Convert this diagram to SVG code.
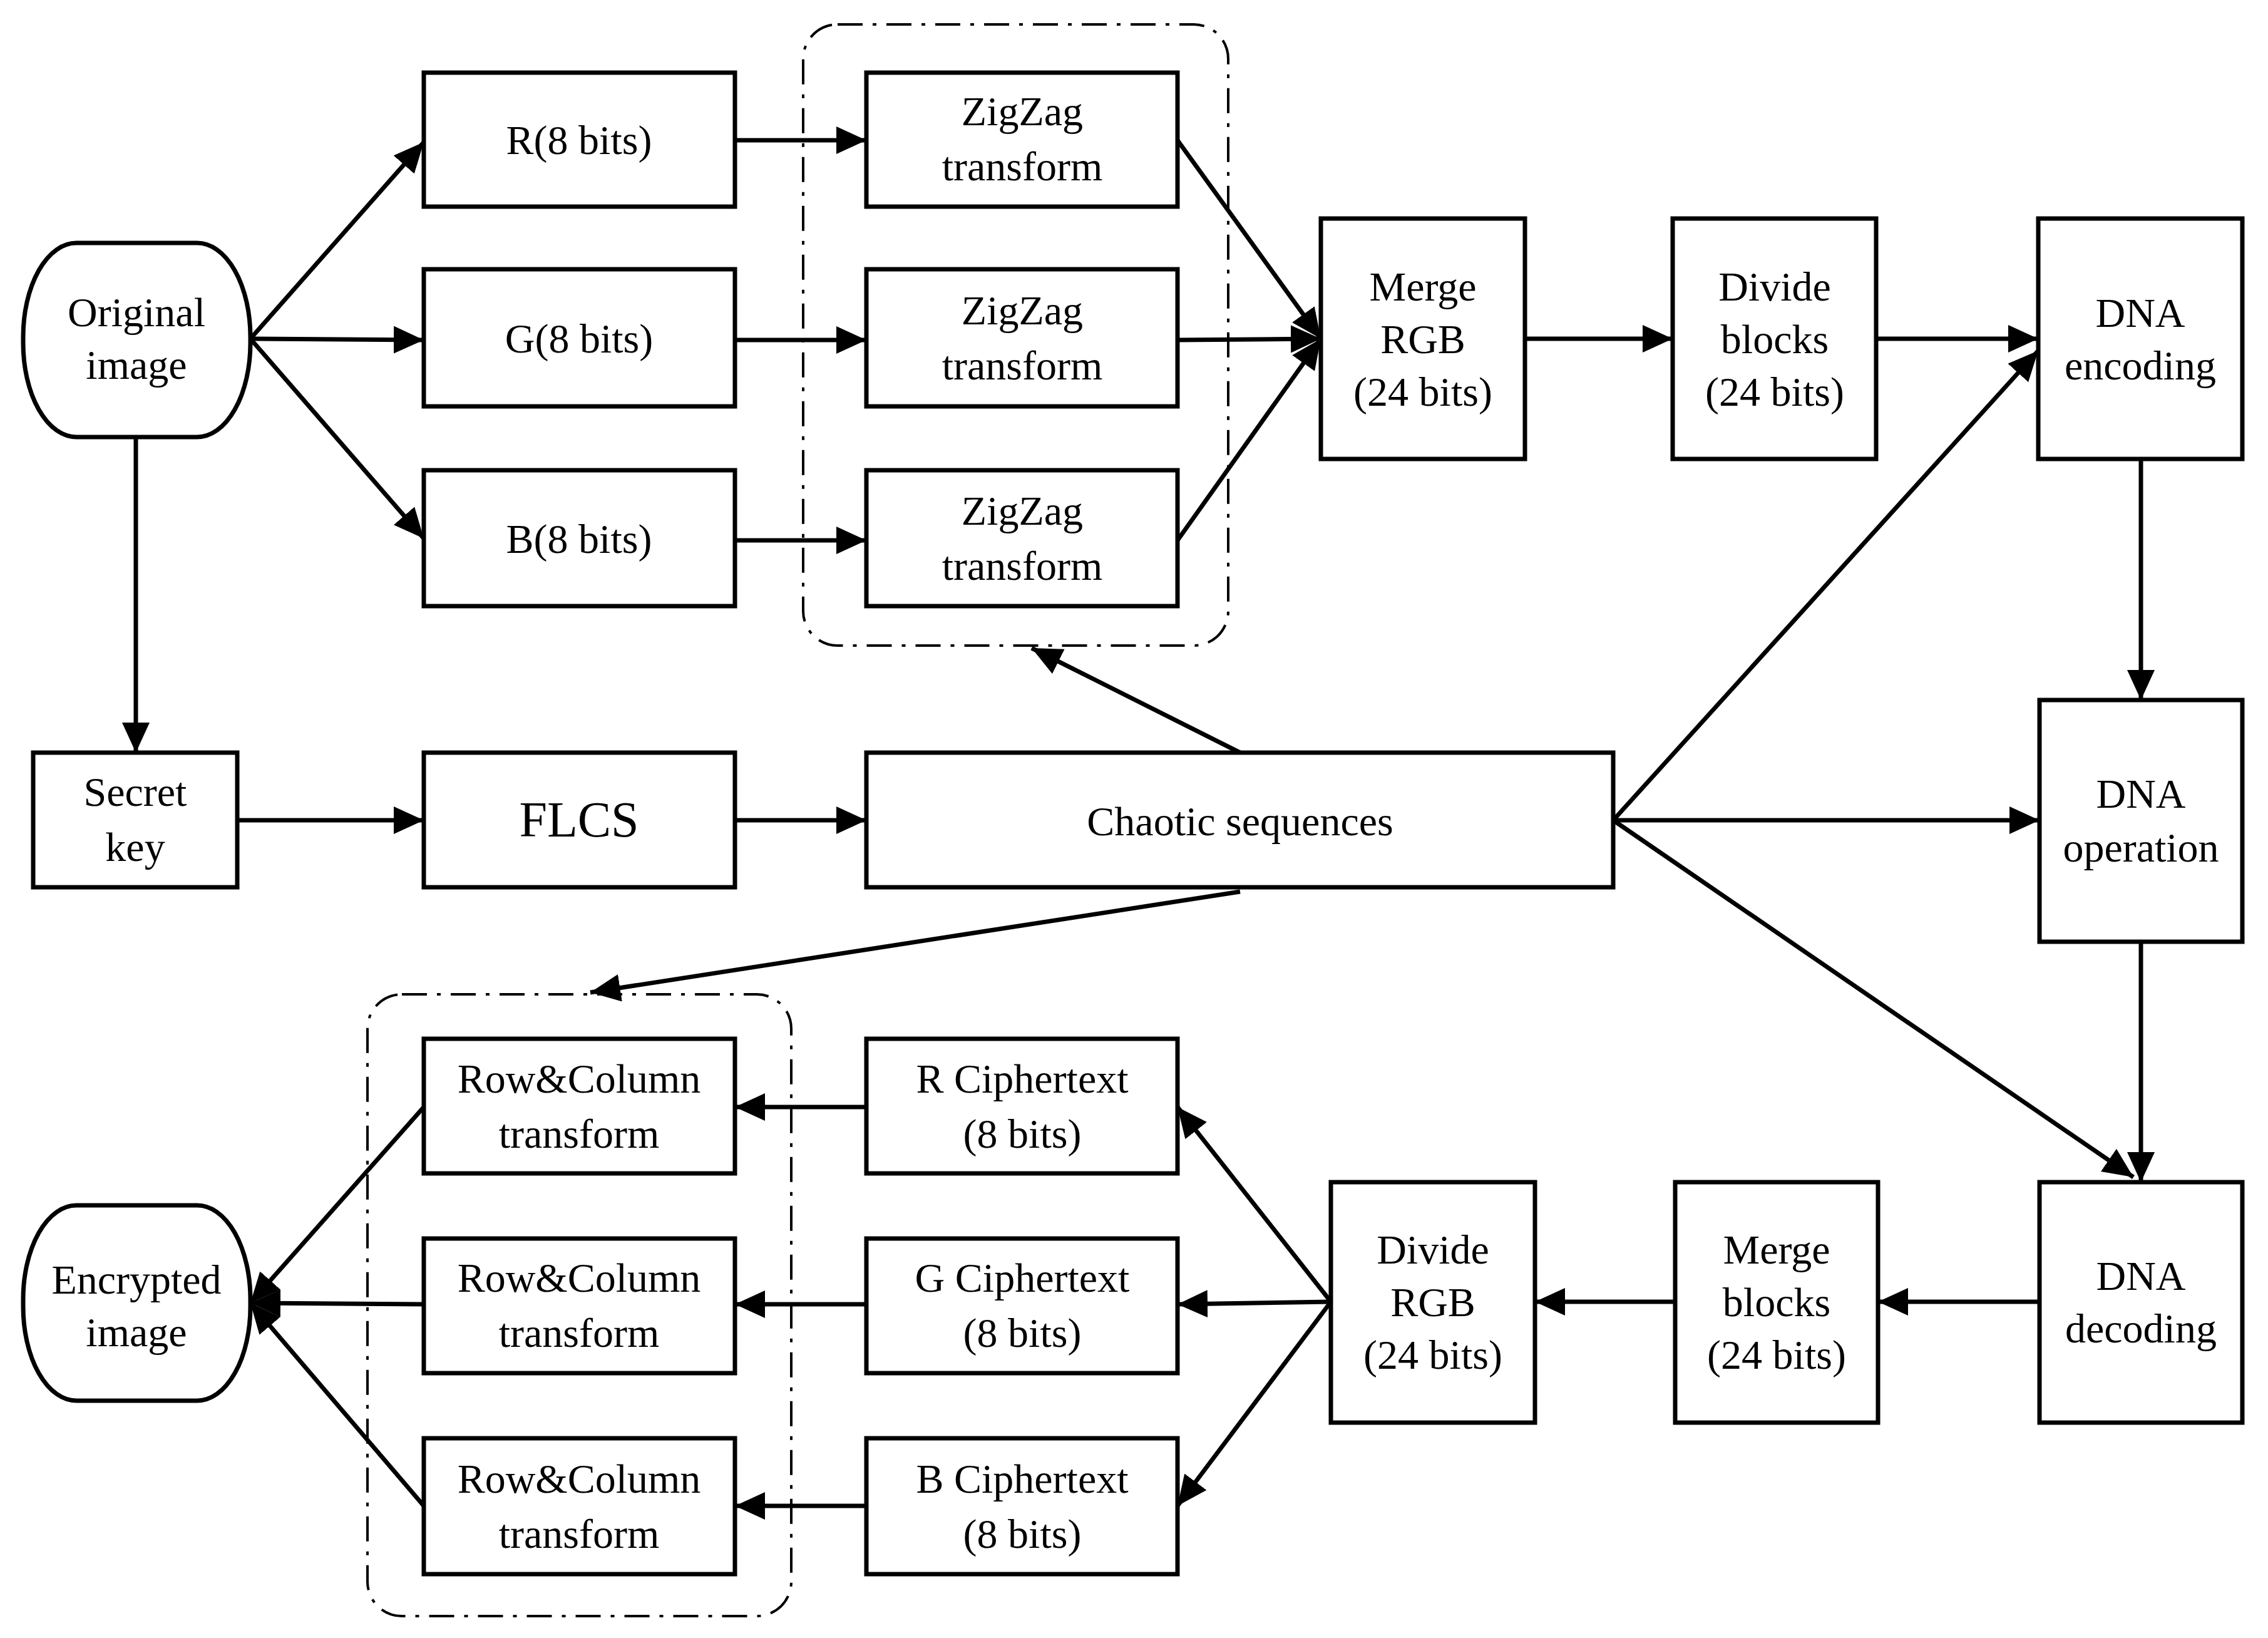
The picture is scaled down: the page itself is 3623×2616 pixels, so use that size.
<svg xmlns="http://www.w3.org/2000/svg" width="3623" height="2616" viewBox="0 0 3623 2616">
<style>
.b{fill:#fff;stroke:#000;stroke-width:7}
.t{font-family:"Liberation Serif",serif;font-size:66px;text-anchor:middle;fill:#000}
.c line{stroke:#000;stroke-width:7;marker-end:url(#a)}
.g{fill:none;stroke:#000;stroke-width:4;stroke-dasharray:40 16 6 16}
</style>
<defs><marker id="a" markerUnits="userSpaceOnUse" markerWidth="52" markerHeight="52" refX="48" refY="22" orient="auto"><path d="M0,0L48,22L0,44Z" fill="#000"/></marker></defs>
<rect class="g" x="1283" y="39" width="679" height="992" rx="55"/>
<rect class="g" x="587" y="1588" width="677" height="993" rx="55"/>
<g class="c">
<line x1="400" y1="541" x2="677" y2="227"/>
<line x1="400" y1="541" x2="677" y2="543"/>
<line x1="400" y1="541" x2="677" y2="860"/>
<line x1="217" y1="698" x2="217" y2="1202"/>
<line x1="1174" y1="224" x2="1384" y2="224"/>
<line x1="1174" y1="543" x2="1384" y2="543"/>
<line x1="1174" y1="863" x2="1384" y2="863"/>
<line x1="1881" y1="224" x2="2110" y2="541"/>
<line x1="1881" y1="543" x2="2110" y2="541"/>
<line x1="1881" y1="863" x2="2110" y2="541"/>
<line x1="2436" y1="541" x2="2672" y2="541"/>
<line x1="2997" y1="541" x2="3256" y2="541"/>
<line x1="3420" y1="733" x2="3420" y2="1118"/>
<line x1="3420" y1="1504" x2="3420" y2="1888"/>
<line x1="379" y1="1310" x2="677" y2="1310"/>
<line x1="1174" y1="1310" x2="1384" y2="1310"/>
<line x1="1981" y1="1202" x2="1648" y2="1035"/>
<line x1="2577" y1="1310" x2="3256" y2="560"/>
<line x1="2577" y1="1310" x2="3258" y2="1310"/>
<line x1="2577" y1="1310" x2="3408" y2="1880"/>
<line x1="1981" y1="1424" x2="943" y2="1585"/>
<line x1="3258" y1="2079" x2="3000" y2="2079"/>
<line x1="2676" y1="2079" x2="2452" y2="2079"/>
<line x1="2126" y1="2079" x2="1881" y2="1768"/>
<line x1="2126" y1="2079" x2="1881" y2="2083"/>
<line x1="2126" y1="2079" x2="1881" y2="2405"/>
<line x1="1384" y1="1768" x2="1174" y2="1768"/>
<line x1="1384" y1="2083" x2="1174" y2="2083"/>
<line x1="1384" y1="2405" x2="1174" y2="2405"/>
<line x1="677" y1="1768" x2="400" y2="2081"/>
<line x1="677" y1="2083" x2="400" y2="2081"/>
<line x1="677" y1="2405" x2="400" y2="2081"/>
</g>
<g id="orig"><rect class="b" x="37" y="388" width="363" height="310" rx="85" ry="150"/><text class="t" x="218" y="521">Original</text><text class="t" x="218" y="605">image</text></g>
<g id="r"><rect class="b" x="677" y="116" width="497" height="214"/><text class="t" x="925" y="246">R(8 bits)</text></g>
<g id="g"><rect class="b" x="677" y="430" width="497" height="219"/><text class="t" x="925" y="563">G(8 bits)</text></g>
<g id="bb"><rect class="b" x="677" y="751" width="497" height="217"/><text class="t" x="925" y="883">B(8 bits)</text></g>
<g id="z1"><rect class="b" x="1384" y="116" width="497" height="214"/><text class="t" x="1633" y="200">ZigZag</text><text class="t" x="1633" y="288">transform</text></g>
<g id="z2"><rect class="b" x="1384" y="430" width="497" height="219"/><text class="t" x="1633" y="518">ZigZag</text><text class="t" x="1633" y="606">transform</text></g>
<g id="z3"><rect class="b" x="1384" y="751" width="497" height="217"/><text class="t" x="1633" y="838">ZigZag</text><text class="t" x="1633" y="926">transform</text></g>
<g id="merge"><rect class="b" x="2110" y="349" width="326" height="384"/><text class="t" x="2273" y="480">Merge</text><text class="t" x="2273" y="564">RGB</text><text class="t" x="2273" y="648">(24 bits)</text></g>
<g id="divb"><rect class="b" x="2672" y="349" width="325" height="384"/><text class="t" x="2835" y="480">Divide</text><text class="t" x="2835" y="564">blocks</text><text class="t" x="2835" y="648">(24 bits)</text></g>
<g id="enc"><rect class="b" x="3256" y="349" width="326" height="384"/><text class="t" x="3419" y="522">DNA</text><text class="t" x="3419" y="606">encoding</text></g>
<g id="key"><rect class="b" x="53" y="1202" width="326" height="215"/><text class="t" x="216" y="1287">Secret</text><text class="t" x="216" y="1375">key</text></g>
<g id="flcs"><rect class="b" x="677" y="1202" width="497" height="215"/><text class="t" x="925" y="1336" style="font-size:80px">FLCS</text></g>
<g id="chaos"><rect class="b" x="1384" y="1202" width="1193" height="215"/><text class="t" x="1981" y="1334">Chaotic sequences</text></g>
<g id="op"><rect class="b" x="3258" y="1118" width="324" height="386"/><text class="t" x="3420" y="1290">DNA</text><text class="t" x="3420" y="1376">operation</text></g>
<g id="dec"><rect class="b" x="3258" y="1888" width="324" height="384"/><text class="t" x="3420" y="2060">DNA</text><text class="t" x="3420" y="2144">decoding</text></g>
<g id="mb"><rect class="b" x="2676" y="1888" width="324" height="384"/><text class="t" x="2838" y="2018">Merge</text><text class="t" x="2838" y="2102">blocks</text><text class="t" x="2838" y="2186">(24 bits)</text></g>
<g id="drgb"><rect class="b" x="2126" y="1888" width="326" height="384"/><text class="t" x="2289" y="2018">Divide</text><text class="t" x="2289" y="2102">RGB</text><text class="t" x="2289" y="2186">(24 bits)</text></g>
<g id="rc"><rect class="b" x="1384" y="1659" width="497" height="215"/><text class="t" x="1633" y="1745">R Ciphertext</text><text class="t" x="1633" y="1833">(8 bits)</text></g>
<g id="gc"><rect class="b" x="1384" y="1978" width="497" height="215"/><text class="t" x="1633" y="2063">G Ciphertext</text><text class="t" x="1633" y="2151">(8 bits)</text></g>
<g id="bc"><rect class="b" x="1384" y="2297" width="497" height="217"/><text class="t" x="1633" y="2384">B Ciphertext</text><text class="t" x="1633" y="2472">(8 bits)</text></g>
<g id="rt1"><rect class="b" x="677" y="1659" width="497" height="215"/><text class="t" x="925" y="1745">Row&amp;Column</text><text class="t" x="925" y="1833">transform</text></g>
<g id="rt2"><rect class="b" x="677" y="1978" width="497" height="215"/><text class="t" x="925" y="2063">Row&amp;Column</text><text class="t" x="925" y="2151">transform</text></g>
<g id="rt3"><rect class="b" x="677" y="2297" width="497" height="217"/><text class="t" x="925" y="2384">Row&amp;Column</text><text class="t" x="925" y="2472">transform</text></g>
<g id="encimg"><rect class="b" x="37" y="1925" width="363" height="312" rx="85" ry="150"/><text class="t" x="218" y="2066">Encrypted</text><text class="t" x="218" y="2150">image</text></g>
</svg>
